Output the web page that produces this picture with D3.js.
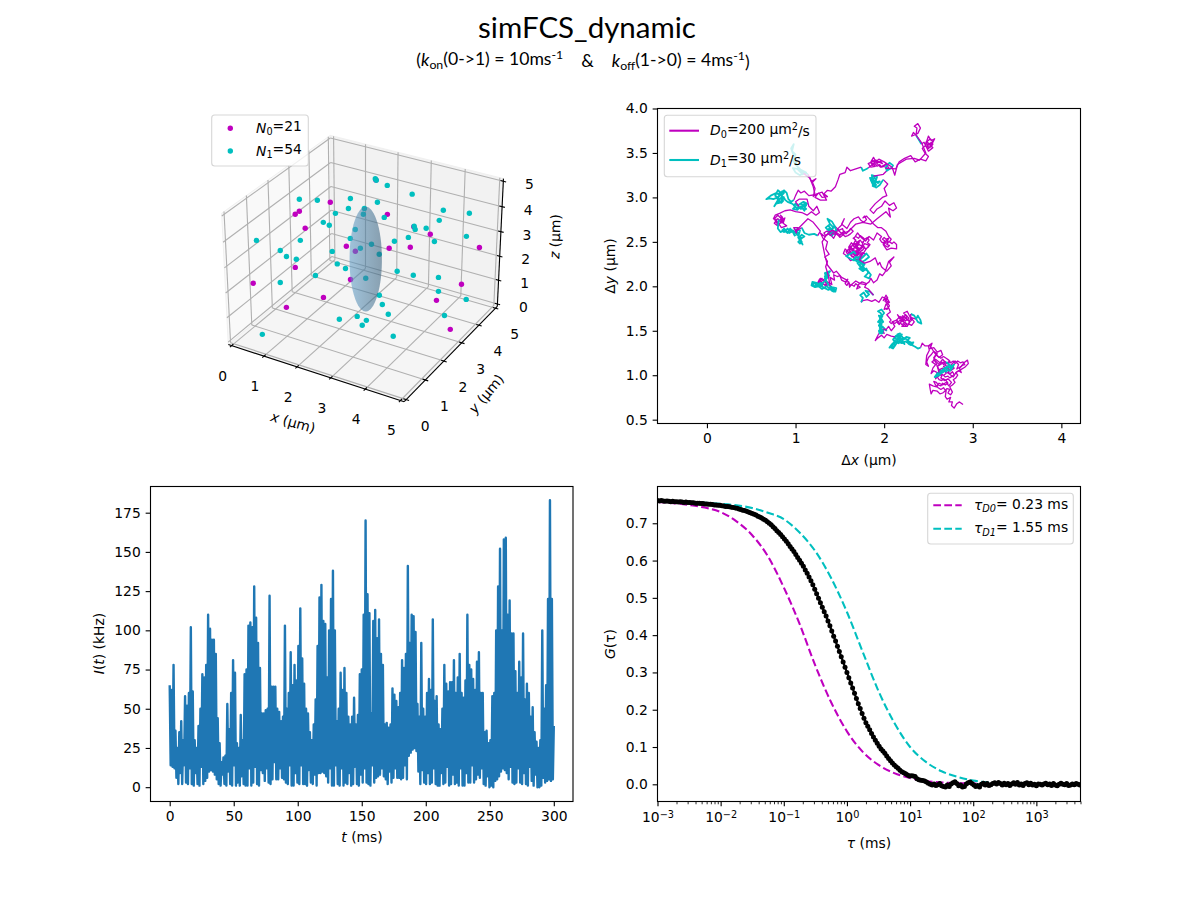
<!DOCTYPE html>
<html><head><meta charset="utf-8">
<style>html,body{margin:0;padding:0;background:#fff}svg{display:block}text{font-family:"DejaVu Sans",sans-serif;fill:#000}</style>
<script src="https://cdn.jsdelivr.net/npm/d3@7"></script>
</head><body><div id="c"></div>
<script>
// ---- data ----
const intensityHigh=[65,62,78,36,25,35,42,30,58,52,60,102,61,30,25,39,50,72,70,78,
110,101,94,94,85,44,28,16,19,20,53,37,60,81,73,28,25,46,30,72,
75,103,105,102,128,108,92,76,47,47,49,50,122,64,64,64,50,48,42,45,
103,50,60,86,65,78,68,90,114,82,66,50,47,35,30,40,56,90,121,129,
106,104,70,100,120,138,100,42,50,73,62,76,60,45,40,45,57,40,46,72,
75,110,170,123,111,47,106,113,95,107,85,78,40,41,38,40,63,59,55,51,
60,81,76,85,141,92,110,109,99,53,45,92,50,45,60,69,62,107,55,58,
40,37,50,78,66,61,67,67,81,60,70,85,60,57,68,110,78,75,69,62,
80,86,60,60,35,36,28,30,58,60,100,128,152,100,158,159,110,119,98,98,
74,60,80,70,98,56,66,60,45,51,35,29,25,30,100,50,65,120,183,120,39];
const intensityLow=[14,13,12,6,2,9,2,14,3,2,12,2,1,9,2,1,13,2,4,6,
10,11,10,8,5,2,1,8,2,1,10,2,1,14,1,3,1,7,2,1,
1,12,1,3,13,2,1,11,9,4,12,3,2,5,16,5,5,12,6,5,
3,2,14,1,1,9,3,2,14,2,2,1,11,3,2,8,1,9,9,10,
9,7,3,12,1,1,14,2,1,12,1,3,2,9,1,2,13,2,1,8,
3,12,3,2,1,14,3,6,7,8,12,7,5,2,10,3,6,12,6,6,
5,6,14,5,20,22,24,25,23,10,2,11,3,2,9,2,3,12,2,1,
1,9,2,3,13,1,2,8,2,3,1,12,1,1,9,3,3,14,3,5,
8,6,12,2,1,7,0,1,0,4,5,7,10,12,11,9,5,13,3,2,
3,12,3,2,9,2,1,13,4,1,8,0,0,1,6,3,4,5,4,5,5];
const fitTau=[0.001,0.00178,0.00316,0.00562,0.01,0.0178,0.0316,0.0562,0.1,0.178,0.316,0.562,1,1.78,3.16,5.62,10,17.8,31.6,56.2,100,178];
const fitD0=[0.757,0.754,0.749,0.742,0.730,0.705,0.668,0.611,0.528,0.430,0.318,0.220,0.142,0.087,0.052,0.030,0.017,0.009,0.005,0.003,0.002,0.001];
const fitD1=[0.759,0.758,0.757,0.755,0.752,0.748,0.741,0.728,0.711,0.675,0.625,0.553,0.462,0.355,0.250,0.165,0.100,0.060,0.035,0.020,0.010,0.005];
const gMeasured=[.761,.760,.761,.760,.759,.760,.759,.758,.759,.758,.758,
.757,.758,.757,.756,.757,.756,.756,.755,.755,.754,
.754,.754,.753,.753,.752,.752,.751,.751,.750,.749,
.749,.748,.748,.747,.746,.745,.745,.744,.743,.742,
.741,.740,.738,.737,.735,.734,.732,.730,.728,.726,
.724,.722,.719,.717,.714,.711,.708,.704,.700,.696,
.691,.686,.680,.675,.670,.664,.658,.652,.645,.638,
.631,.624,.616,.608,.601,.593,.585,.575,.566,.556,
.546,.535,.523,.511,.499,.487,.475,.463,.451,.438,
.425,.411,.397,.384,.370,.356,.342,.328,.314,.300,
.286,.272,.258,.244,.230,.216,.203,.190,.177,.165,
.156,.146,.136,.127,.118,.110,.102,.095,.089,.083,
.076,.069,.063,.057,.052,.047,.043,.038,.034,.031,
.028,.025,.022,.023,.022,.021,.015,.012,.011,.010,
.009,.006,.003,.000,-.002,.001,-.003,-.001,.002,-.004,-.006,
-.007,-.002,-.006,.001,.004,.007,.002,-.004,-.002,-.007,
-.006,.001,.004,.006,.002,-.002,-.006,-.003,-.007,.000,
.003,-.002,.002,-.003,-.001,.002,.004,.001,.005,.002,
-.002,.003,-.001,.002,-.003,.001,.004,.000,.005,-.002,
.001,-.003,.002,.004,-.001,.003,-.002,.000,-.004,.001,
.000,-.002,.001,.003,-.001,.001,-.003,.002,-.002,-.004,
.000,.003,.000,-.001,.002,-.003,-.002,.001,-.001,.002,
.000,-.002,.001];
const walkStates=[0,0,1,1,0,1,1,0,1,1,0,1,0,0,1,0,1,0,1,0,1,0,1,0,1,0,1,0,1,0,1,0,1,0,1,0,1,0];
const walkPoints=[
[2.89,.67,2.85,.70,2.82,.68,2.79,.63,2.76,.66,2.77,.70,2.73,.70,2.75,.75,2.71,.73,2.69,.76,2.70,.83,2.66,.80,2.63,.79,2.60,.82,2.55,.83,2.53,.79,2.52,.84,2.51,.90,2.55,.88,2.59,.87,2.62,.91,2.66,.89,2.70,.92,2.73,.88,2.76,.92,2.72,.96,2.68,.94,2.64,.97,2.66,1.01,2.62,1.00,2.58,.96,2.60,1.03,2.56,1.05,2.53,1.02,2.55,1.08,2.58,1.12,2.54,1.15,2.58,1.18,2.63,1.14,2.66,1.18,2.70,1.13,2.74,1.16,2.71,1.08,2.75,1.05,2.79,1.08,2.76,1.12,2.80,1.16,2.84,1.12,2.82,1.07,2.87,1.10,2.90,1.14,2.94,1.17,2.95,1.13,2.91,1.09,2.86,1.06,2.81,1.03,2.78,.98,2.74,1.01,2.70,1.04,2.66,1.08,2.62,1.06,2.60,1.10,2.65,1.13,2.69,1.16],
[2.68,1.13,2.70,1.11,2.67,1.10,2.69,1.07,2.72,1.08,2.74,1.06,2.72,1.03,2.75,1.02,2.77,1.04,2.79,1.01,2.77,.99,2.74,.97,2.72,.99,2.69,.98,2.67,1.00,2.70,1.02,2.68,1.05,2.65,1.03,2.63,1.06,2.61,1.03,2.63,1.00,2.60,.98,2.62,.95,2.65,.94,2.67,.96,2.70,.94,2.72,.91,2.69,.89,2.66,.91,2.64,.88,2.61,.89,2.59,.92,2.56,.93,2.58,.89,2.61,.86,2.64,.84,2.67,.86,2.69,.83,2.71,.85,2.74,.84,2.72,.80,2.75,.78,2.77,.81,2.74,.87,2.77,.89,2.80,.92,2.78,.95,2.81,.97,2.83,1.00,2.81,1.03,2.84,1.05,2.87,1.03,2.85,1.08,2.88,1.11,2.91,1.12,2.89,1.15,2.86,1.14,2.83,1.16,2.80,1.13,2.78,1.16,2.75,1.14,2.73,1.17,2.70,1.19,2.67,1.21,2.64,1.19,2.61,1.21,2.58,1.23,2.56,1.17,2.59,1.15,2.62,1.12,2.65,1.15,2.67,1.12,2.70,1.15],
[2.72,1.13,2.76,1.10,2.79,1.12,2.75,1.08,2.71,1.10,2.67,1.06,2.63,1.03,2.60,1.00,2.57,.98,2.60,1.02,2.64,1.05],
[2.66,1.06,2.68,1.08,2.70,1.07,2.72,1.09,2.74,1.11,2.76,1.09,2.78,1.10,2.76,1.07,2.74,1.05,2.72,1.06,2.70,1.04,2.68,1.05,2.66,1.03,2.64,1.02,2.62,1.00,2.60,.99,2.58,.98,2.60,1.01,2.62,1.03],
[2.60,1.10,2.56,1.20,2.60,1.24,2.56,1.27,2.53,1.23,2.50,1.20,2.48,1.15,2.50,1.10,2.47,1.12,2.48,1.22,2.51,1.28,2.50,1.33,2.54,1.36,2.52,1.30,2.56,1.31,2.60,1.26,2.64,1.28,2.66,1.23,2.62,1.20,2.57,1.25,2.52,1.33,2.46,1.33,2.43,1.36,2.41,1.31],
[2.38,1.30,2.35,1.32,2.31,1.34,2.33,1.37,2.29,1.36,2.26,1.39,2.29,1.42,2.25,1.43,2.22,1.40,2.20,1.44,2.17,1.42,2.15,1.46,2.18,1.47,2.13,1.44,2.10,1.40,2.13,1.37,2.09,1.35,2.06,1.31,2.09,1.33,2.12,1.39,2.16,1.36,2.20,1.38,2.23,1.35,2.19,1.41,2.14,1.42],
[2.12,1.42,2.14,1.40,2.16,1.41,2.18,1.39,2.20,1.41,2.22,1.42,2.24,1.41,2.26,1.40,2.28,1.38,2.30,1.37,2.32,1.35,2.30,1.34,2.28,1.35,2.26,1.37,2.24,1.38,2.22,1.37,2.20,1.36,2.18,1.37,2.16,1.38,2.14,1.38,2.12,1.37,2.10,1.36,2.12,1.34,2.10,1.32,2.08,1.31,2.10,1.30,2.12,1.33,2.14,1.36,2.16,1.40,2.18,1.44,2.20,1.46,2.18,1.45,2.16,1.43,2.14,1.44,2.12,1.43],
[2.08,1.44,2.03,1.46,2.00,1.42,1.97,1.45,1.93,1.42,1.90,1.39,1.93,1.45,1.96,1.50,2.00,1.47,1.98,1.52,2.03,1.50],
[1.98,1.55,1.95,1.53,1.97,1.58,1.93,1.60,1.96,1.63,1.94,1.67,1.98,1.66,1.96,1.70,1.93,1.72,1.97,1.74,2.00,1.70,1.96,1.65,1.99,1.60,1.95,1.57,1.98,1.53],
[1.96,1.55,1.97,1.57,1.95,1.59,1.97,1.61,1.95,1.63,1.97,1.65,1.95,1.62,1.94,1.60,1.96,1.58,1.94,1.56,1.96,1.53,1.95,1.50,1.97,1.48,1.95,1.47,1.94,1.50,1.96,1.52,1.98,1.50,1.96,1.47,1.98,1.47,1.99,1.52],
[2.02,1.51,2.05,1.55,2.08,1.50,2.12,1.55,2.09,1.60,2.14,1.62,2.17,1.57,2.20,1.62,2.24,1.58,2.20,1.55,2.26,1.55,2.29,1.60,2.25,1.64,2.21,1.67,2.18,1.63,2.15,1.68,2.21,1.61,2.26,1.66,2.22,1.70,2.26,1.72,2.29,1.66,2.31,1.62,2.27,1.58,2.31,1.56,2.34,1.60,2.30,1.65,2.36,1.63],
[2.38,1.67,2.41,1.62,2.42,1.58,2.38,1.60,2.34,1.67,2.30,1.69],
[2.30,1.63,2.28,1.61,2.26,1.63,2.24,1.61,2.22,1.63,2.20,1.60,2.18,1.62,2.16,1.60,2.14,1.62,2.16,1.64,2.18,1.66,2.20,1.64,2.22,1.66,2.24,1.65,2.26,1.62,2.28,1.64,2.26,1.66,2.24,1.68,2.22,1.65,2.20,1.63,2.22,1.60,2.24,1.59,2.26,1.57,2.24,1.56,2.22,1.58,2.20,1.57,2.18,1.59,2.16,1.58,2.14,1.60,2.12,1.58,2.10,1.60,2.08,1.58,2.06,1.60,2.08,1.62],
[2.03,1.68,2.07,1.71,2.05,1.76,2.00,1.74,2.02,1.80,2.06,1.82,2.03,1.87,1.99,1.84,2.02,1.90,2.04,1.87,2.02,1.84,2.05,1.82,2.03,1.79,2.05,1.76,2.03,1.74,2.06,1.78,2.04,1.81,2.01,1.83,2.03,1.86,1.98,1.88,1.94,1.82,1.90,1.85,1.86,1.83,1.81,1.85,1.76,1.84,1.74,1.82],
[1.76,1.87,1.73,1.90,1.77,1.93,1.80,1.88,1.83,1.91,1.79,1.95,1.84,1.94,1.88,1.90],
[1.82,1.97,1.78,1.99,1.80,2.03,1.75,2.05,1.71,2.02,1.69,1.97,1.73,1.99,1.68,2.03,1.66,2.00,1.63,2.02,1.61,1.99,1.60,2.05,1.58,2.01,1.56,2.03,1.59,2.08,1.56,2.05,1.52,2.07,1.50,2.12,1.47,2.11,1.43,2.13,1.44,2.07,1.39,2.10,1.41,2.02,1.36,2.05,1.33,2.01,1.35,2.03,1.33,2.05,1.31,2.07,1.29,2.05,1.31,2.02,1.29,2.00,1.27,2.02,1.29,2.04,1.27,2.06,1.25,2.04,1.27,2.08,1.30,2.09,1.26,2.03,1.28,2.09,1.33,2.07,1.36,2.00,1.31,2.03],
[1.28,2.00,1.24,2.04,1.19,2.05,1.18,2.01,1.22,1.99,1.26,2.00,1.30,1.97,1.35,2.00,1.38,1.98,1.41,1.96,1.45,1.94,1.46,1.98,1.41,1.99,1.37,2.02,1.33,2.09,1.36,2.13,1.39,2.17,1.33,2.15,1.35,2.09,1.37,2.11,1.35,2.13,1.33,2.11,1.35,2.15,1.37,2.14,1.38,2.12,1.36,2.10,1.34,2.07,1.32,2.05,1.30,2.03,1.28,2.04,1.26,2.02,1.24,2.01,1.22,2.03,1.20,2.04,1.20,2.01,1.22,2.00,1.25,2.03,1.27,2.01,1.29,2.02,1.31,1.99,1.33,1.98,1.35,1.97,1.37,1.96,1.39,1.97,1.41,1.95,1.43,1.94,1.45,1.95,1.43,1.97,1.41,1.97,1.39,2.00],
[1.37,2.12,1.34,2.22,1.36,2.28,1.33,2.33,1.38,2.36,1.34,2.42,1.36,2.50,1.31,2.54,1.28,2.60,1.33,2.56,1.38,2.60,1.43,2.54,1.46,2.60,1.50,2.55,1.55,2.59,1.53,2.65,1.49,2.63,1.44,2.68],
[1.41,2.65,1.37,2.63,1.34,2.66,1.39,2.70,1.36,2.76,1.41,2.73,1.44,2.68,1.46,2.63,1.42,2.60,1.37,2.60,1.39,2.62,1.37,2.64,1.39,2.66,1.37,2.68,1.39,2.70,1.41,2.68,1.43,2.66,1.41,2.64,1.43,2.62,1.41,2.60,1.39,2.58,1.41,2.57,1.44,2.60],
[1.47,2.62,1.45,2.58,1.42,2.60,1.40,2.57,1.37,2.59,1.34,2.57,1.32,2.60,1.35,2.62,1.38,2.61,1.41,2.63,1.44,2.61,1.47,2.58,1.50,2.57,1.52,2.60,1.55,2.62,1.57,2.59,1.60,2.62,1.62,2.65,1.65,2.62,1.62,2.59,1.59,2.57,1.56,2.56,1.47,2.64,1.52,2.69,1.55,2.76,1.52,2.70,1.58,2.65,1.62,2.72,1.66,2.76,1.71,2.78,1.74,2.74,1.77,2.72,1.80,2.75,1.78,2.79,1.76,2.77,1.80,2.79,1.82,2.77,1.85,2.74,1.84,2.75,1.88,2.70,1.93,2.66,1.97,2.66,2.02,2.62,2.05,2.56,2.08,2.53,2.06,2.50,2.09,2.48,2.11,2.50,2.14,2.47,2.14,2.42,2.08,2.43,2.03,2.41,1.99,2.47,2.03,2.52,2.05,2.50,2.03,2.47,2.06,2.46,2.04,2.44,2.01,2.46,1.99,2.49,2.01,2.51,1.98,2.53,2.00,2.55,2.02,2.53,2.05,2.54,2.03,2.49,2.00,2.48,1.97,2.50,1.95,2.53,1.97,2.56,1.92,2.60,1.88,2.52,1.83,2.56,1.79,2.51,1.74,2.55,1.70,2.60,1.66,2.54,1.70,2.48,1.75,2.45,1.72,2.40,1.67,2.44,1.63,2.49,1.60,2.44,1.65,2.39,1.69,2.35,1.64,2.33,1.60,2.38,1.56,2.42,1.54,2.37,1.58,2.34,1.62,2.29,1.67,2.31,1.71,2.36,1.77,2.38,1.74,2.33,1.79,2.41,1.83,2.46,1.78,2.48,1.74,2.42,1.69,2.44,1.72,2.50,1.67,2.47,1.71,2.41,1.76,2.44,1.68,2.38,1.64,2.42,1.70,2.45,1.65,2.48,1.61,2.40,1.66,2.36,1.72,2.38,1.68,2.34,1.70,2.37,1.68,2.40,1.71,2.42,1.69,2.45,1.72,2.47,1.70,2.50,1.73,2.52,1.75,2.49,1.77,2.51,1.75,2.46,1.78,2.44,1.76,2.41,1.73,2.39,1.75,2.36,1.72,2.34,1.70,2.32,1.67,2.35,1.64,2.37,1.66,2.41,1.63,2.43,1.60,2.41,1.62,2.38,1.59,2.36,1.57,2.39,1.60,2.42,1.62,2.45,1.65,2.46,1.67,2.43,1.69,2.47,1.66,2.49,1.68,2.52,1.65,2.54,1.68,2.56,1.71,2.54,1.73,2.57,1.76,2.55,1.78,2.53,1.81,2.55,1.83,2.52,1.81,2.49,1.84,2.47,1.82,2.44,1.79,2.42,1.77,2.45,1.74,2.44,1.72,2.41,1.70,2.38,1.73,2.36,1.76,2.38,1.79,2.36,1.76,2.33,1.72,2.31,1.69,2.30,1.66,2.32,1.63,2.35,1.65,2.38,1.68,2.36],
[1.66,2.39,1.61,2.36,1.57,2.34,1.62,2.31,1.66,2.29,1.69,2.33,1.73,2.30,1.77,2.34,1.80,2.37,1.83,2.33,1.78,2.29,1.74,2.27,1.77,2.23,1.72,2.20,1.76,2.17,1.80,2.20,1.82,2.15,1.78,2.11,1.83,2.09,1.85,2.13,1.81,2.18,1.74,2.21,1.70,2.26,1.72,2.28,1.74,2.25,1.76,2.27,1.78,2.25,1.76,2.22,1.78,2.20,1.76,2.18,1.74,2.20,1.76,2.23,1.74,2.22,1.72,2.24,1.74,2.27,1.71,2.30,1.69,2.28,1.66,2.31,1.68,2.33,1.71,2.32,1.74,2.34],
[1.72,2.30,1.78,2.26,1.84,2.28,1.90,2.32,1.93,2.24,1.95,2.27,1.97,2.22,1.99,2.20,2.03,2.17,2.08,2.23,2.06,2.27,2.11,2.33,2.05,2.28,2.01,2.16,1.98,2.12,1.95,2.14,1.92,2.07,1.88,2.04,1.85,2.09,1.83,2.05,1.79,2.02,1.73,2.03,1.68,2.06,1.62,2.01,1.58,2.07,1.52,2.10,1.46,2.17,1.43,2.15,1.36,2.24,1.33,2.35,1.30,2.50,1.35,2.58,1.42,2.63,1.50,2.58,1.60,2.62,1.68,2.70,1.76,2.72,1.85,2.70,1.92,2.76,1.97,2.80,2.02,2.84,2.07,2.78,2.05,2.88,2.10,2.85,2.14,2.88,2.11,2.94,2.06,2.91,2.01,2.96,1.97,2.90,1.92,2.87,1.88,2.82,1.84,2.86,1.90,2.93,1.98,3.00,2.03,3.02,2.00,3.10,2.04,3.15,1.99,3.20],
[1.95,3.14,1.91,3.11,1.87,3.15,1.84,3.22,1.88,3.20,1.86,3.25,1.92,3.23,1.90,3.17,1.95,3.18,1.93,3.16,1.91,3.18,1.89,3.16,1.91,3.14,1.89,3.12,1.87,3.13,1.89,3.15,1.87,3.17,1.85,3.19,1.87,3.21,1.89,3.22,1.91,3.20,1.89,3.18,1.87,3.19,1.86,3.23,1.88,3.24],
[1.99,3.26,2.03,3.30,2.05,3.34,2.01,3.37,1.96,3.34,1.92,3.38,1.88,3.45,1.85,3.40,1.90,3.35,1.85,3.34,1.82,3.38,1.90,3.42,1.98,3.38,1.96,3.41,1.93,3.39,1.91,3.42,1.89,3.39,1.87,3.42,1.85,3.39,1.87,3.36,1.90,3.38,1.92,3.35,1.95,3.37,1.97,3.34,2.00,3.35,2.02,3.38,2.04,3.36,2.02,3.33],
[2.03,3.30,2.08,3.33,2.10,3.36,2.06,3.39,2.01,3.33],
[2.13,3.32,2.17,3.40,2.23,3.44,2.30,3.47,2.35,3.40,2.41,3.43,2.47,3.41,2.50,3.46,2.46,3.50,2.43,3.55,2.46,3.58,2.50,3.55,2.54,3.60,2.57,3.66,2.53,3.64,2.50,3.69,2.47,3.60,2.49,3.62,2.51,3.59,2.53,3.62,2.55,3.60,2.53,3.57,2.51,3.56,2.49,3.58,2.47,3.62,2.50,3.64,2.52,3.66,2.55,3.63,2.53,3.60,2.50,3.61,2.48,3.57,2.51,3.60,2.55,3.56,2.50,3.52,2.45,3.62,2.42,3.60],
[2.39,3.65,2.36,3.70],
[2.33,3.73,2.31,3.69,2.38,3.72,2.41,3.78,2.38,3.83,2.34,3.80,2.37,3.78,2.36,3.70,2.42,3.62,2.47,3.50,2.40,3.42,2.34,3.44,2.25,3.43,2.15,3.37,2.12,3.25,2.09,3.34,2.00,3.40,1.94,3.43,1.88,3.38,1.82,3.33],
[1.80,3.32,1.76,3.30,1.74,3.34],
[1.68,3.32,1.62,3.30,1.58,3.34,1.56,3.28,1.50,3.26,1.48,3.20,1.45,3.12,1.40,3.07,1.36,3.08,1.32,3.04,1.36,3.01,1.30,3.00,1.26,3.05,1.22,3.00,1.28,2.97,1.35,2.97,1.30,3.06,1.24,3.04,1.20,3.01,1.22,3.10,1.19,3.17,1.23,3.21,1.18,3.18,1.14,3.26],
[1.10,3.28,1.05,3.25,1.00,3.28,.97,3.33,1.02,3.32,1.08,3.26,1.12,3.28,1.06,3.31,1.00,3.37,.97,3.42,1.00,3.48,.96,3.52,.98,3.60,.95,3.55,.99,3.44,1.03,3.33,1.09,3.27],
[1.16,3.22,1.20,3.12,1.22,3.03,1.15,3.02,1.10,3.07,1.06,3.05,1.03,3.08,1.00,3.02,.98,2.97],
[.95,2.95,.92,2.98,.90,3.05,.87,3.08,.84,3.05,.80,3.08,.77,3.02,.80,3.00,.75,2.98,.71,2.99,.67,2.98,.72,3.02,.78,3.05,.84,3.02,.88,2.98,.86,3.00,.84,2.98,.86,2.96,.84,2.94,.82,2.96,.80,2.94,.82,2.98,.80,3.00,.82,3.02,.80,3.04,.83,3.05,.85,3.03,.87,3.05,.85,3.07,.83,3.03,.81,3.01,.79,2.99,.81,2.97,.83,2.99,.85,3.01,.87,3.00,.85,2.97,.83,2.95,.83,2.94,.78,2.93,.76,2.90,.80,2.97,.85,3.00,.91,2.95,.96,2.93,1.00,2.90,.97,2.87,1.02,2.86,1.06,2.90,1.10,2.85,1.07,2.89,1.13,2.93,1.09,2.95,1.04,2.92,1.06,2.93,1.08,2.91,1.10,2.93,1.12,2.91,1.10,2.89,1.12,2.87,1.10,2.86,1.08,2.88,1.06,2.87,1.04,2.89,1.02,2.91,1.00,2.93,.98,2.91,1.00,2.89,1.02,2.88,1.04,2.90],
[1.00,2.95,1.04,2.98,1.13,2.98,1.15,2.90,1.20,2.85,1.24,2.90,1.27,2.83,1.23,2.80,1.18,2.84,1.13,2.80,1.07,2.83,1.00,2.84,.94,2.86,.88,2.85,.82,2.82,.77,2.80,.75,2.76,.79,2.75,.76,2.71,.80,2.68,.84,2.73,.88,2.77,.86,2.71,.90,2.68,.84,2.66,.80,2.72,.78,2.74,.80,2.76,.82,2.74,.84,2.76,.82,2.78,.80,2.80,.78,2.78,.76,2.76,.78,2.72,.80,2.70,.83,2.71,.85,2.72,.87,2.74,.85,2.78,.83,2.80,.85,2.76,.83,2.72,.81,2.75],
[.80,2.65,.83,2.61,.87,2.63,.91,2.60,.94,2.65,.97,2.61,.99,2.57,1.03,2.60,1.00,2.64,1.05,2.63,1.03,2.55,1.06,2.50,1.08,2.47,1.05,2.53,1.10,2.56,1.07,2.58,1.05,2.56,1.07,2.54,1.05,2.52,1.03,2.50,1.05,2.48,1.07,2.50,1.05,2.53,1.03,2.57,1.01,2.59,.99,2.61,.97,2.63,.95,2.61,.93,2.63,.91,2.65,.89,2.63,.87,2.61,.85,2.63,.87,2.65,.90,2.62,.93,2.60,.96,2.62,.99,2.60,1.01,2.62],
[1.01,2.60,.98,2.66,1.03,2.66,1.00,2.62,1.07,2.66],
[1.10,2.60,1.15,2.58,1.21,2.59,1.25,2.57],
[1.28,2.62,1.20,2.72,1.14,2.76,1.07,2.69,1.02,2.64]
];
const n0X=[1.46,.51,.38,.68,3.14,1.93,2.20,3.20,3.81,4.37,4.74,.34,.41,2.05,1.21,.48,4.94,4.59,4.66,2.01,3.90];
const n0Y=[2.5,2.5,2.5,2.5,2.5,2.5,2.5,2.5,2.5,2.5,4.6,2.5,.4,2.5,2.5,1.8,3.2,2.5,3.2,3.9,2.5];
const n0Z=[4.48,3.79,3.62,3.17,4.61,2.91,2.81,3.31,3.58,4.29,2.55,1.44,2.25,1.61,.53,.31,2.08,1.78,.12,4.71,4.41];
const n1X=[1.99,2.02,2.35,3.09,.52,1.07,2.06,2.85,2.00,2.47,1.61,2.44,3.05,4.36,4.75,4.61,1.24,1.42,3.91,3.94,4.25,2.20,4.69,3.75,4.49,3.35,2.05,.52,.08,2.68,2.35,.34,1.50,2.91,.07,.38,1.65,1.90,3.44,.97,3.91,4.63,2.51,.31,4.64,2.92,4.75,3.01,3.19,4.83,2.25,2.12,2.53,2.81,.63,3.73];
const n1Y=[3.9,3.9,3.9,3.9,2.5,2.5,2.5,2.5,2.5,2.5,2.5,2.5,2.5,3.2,3.9,2.5,2.5,2.5,2.5,2.5,2.5,2.5,3.9,2.5,2.5,2.5,2.5,2.5,1.1,2.5,2.5,1.8,2.5,2.5,2.5,2.5,2.5,2.5,2.5,2.5,2.5,2.5,2.5,1.8,2.5,2.5,3.9,2.5,2.5,2.5,2.5,1.8,2.5,1.8,.4,1.8];
const n1Z=[4.75,4.70,4.61,4.52,4.27,4.42,4.84,4.97,4.43,4.60,4.10,4.36,4.46,4.77,4.36,4.91,3.61,3.56,4.43,4.32,4.48,3.68,3.43,3.94,4.06,3.64,3.27,2.62,3.36,3.27,2.99,2.60,2.54,2.96,1.79,1.79,2.09,2.00,2.49,1.35,2.51,2.71,1.84,1.28,2.16,1.31,.90,.97,.64,1.27,.16,.49,.11,.53,.26,.47];
const cubeTicks=[0,1,2,3,4,5];
const focusCentre=[2.51,2.50,2.58],focusWaist=.42,focusHeight=2.08;

// ---- layout ----
const MAG="#bf00bf",CYA="#00bfbf",BLUE="#1f77b4";
const W=1200,H=900,FS=13.89;
const svg=d3.select("#c").append("svg").attr("width",W).attr("height",H);
function rich(t,segs){segs.forEach(s=>{let ts=t.append("tspan").text(s.t);
 if(s.i)ts.style("font-style","italic");
 if(s.sub)ts.attr("dy",s.dy||"0.25em").style("font-size","70%");
 else if(s.sup)ts.attr("dy","-0.45em").style("font-size","70%");
 else if(s.back)ts.attr("dy",s.back);
});return t;}
function legendBox(x,y,w,h){return svg.append("rect").attr("x",x).attr("y",y).attr("width",w).attr("height",h).attr("rx",3).attr("fill","#fff").attr("fill-opacity",.8).attr("stroke","#ccc").attr("stroke-opacity",.8).attr("stroke-width",1.1);}
function styleAxis(g){g.select(".domain").remove();g.selectAll(".tick line").attr("stroke","#000").attr("stroke-width",1.11);g.selectAll("text").attr("font-size",FS).attr("font-family","DejaVu Sans").attr("fill","#000");return g;}
function spines(x0,x1,y0,y1){svg.append("rect").attr("x",x0).attr("y",y0).attr("width",x1-x0).attr("height",y1-y0).attr("fill","none").attr("stroke","#000").attr("stroke-width",1.11);}
function clip(id,x0,x1,y0,y1){svg.append("clipPath").attr("id",id).append("rect").attr("x",x0).attr("y",y0).attr("width",x1-x0).attr("height",y1-y0);return "url(#"+id+")";}
function label(x,y,segs,rot,anchor){const t=svg.append("text").attr("font-size",FS).attr("text-anchor",anchor||"middle");
 t.attr("transform",`translate(${x},${y})`+(rot?` rotate(${rot})`:""));rich(t,segs);return t;}

// titles
svg.append("text").attr("x",587).attr("y",38).attr("text-anchor","middle").style("font-family","Lato").attr("font-size",29.5).text("simFCS_dynamic");
const sub=svg.append("text").attr("x",583).attr("y",66).attr("text-anchor","middle").style("font-family","Lato").attr("font-size",17.6);
rich(sub,[{t:"("},{t:"k",i:1},{t:"on",sub:1},{t:"(0->1) = 10ms",back:"-0.25em"},{t:"-1",sup:1},{t:"\u00a0\u00a0\u00a0\u00a0&\u00a0\u00a0\u00a0\u00a0",back:"0.45em"},{t:"k",i:1},{t:"off",sub:1},{t:"(1->0) = 4ms",back:"-0.25em"},{t:"-1",sup:1},{t:")",back:"0.45em"}]);

// ---- 3D panel ----
const D2R=Math.PI/180,elev=30*D2R,azim=-60*D2R,dist=10,box=[1.1905,1.1905,.8929];
const add=(a,b)=>a.map((v,i)=>v+b[i]),sub3=(a,b)=>a.map((v,i)=>v-b[i]),dot=(a,b)=>a[0]*b[0]+a[1]*b[1]+a[2]*b[2];
const cross=(a,b)=>[a[1]*b[2]-a[2]*b[1],a[2]*b[0]-a[0]*b[2],a[0]*b[1]-a[1]*b[0]];
const norm=a=>{const n=Math.hypot(...a);return a.map(v=>v/n)};
const R0=box.map(b=>b/2),Eye=add(R0,[dist*Math.cos(elev)*Math.cos(azim),dist*Math.cos(elev)*Math.sin(azim),dist*Math.sin(elev)]);
const w3=norm(sub3(Eye,R0)),u3=norm(cross([0,0,1],w3)),v3=cross(w3,u3);
function raw(p){const q=p.map((c,i)=>c/5*box[i]),r=sub3(q,Eye),z=-dot(w3,r);return [dot(u3,r)/z,dot(v3,r)/z];}
const L=-.104,Hi=5.104;
const sx=d3.scaleLinear().domain([raw([L,L,L])[0],raw([Hi,Hi,L])[0]]).range([228.3,497.3]);
const sy=d3.scaleLinear().domain([raw([Hi,L,L])[1],raw([L,L,Hi])[1]]).range([401.7,213.3]);
const P=p=>{const r=raw(p);return [sx(r[0]),sy(r[1])]};
const poly=pts=>pts.map(P).map(c=>c.join(",")).join(" ");
const g3=svg.append("g");
g3.append("polygon").attr("points",poly([[L,L,L],[L,Hi,L],[L,Hi,Hi],[L,L,Hi]])).attr("fill","#f9f9f9").attr("stroke","#f0f0f0");
g3.append("polygon").attr("points",poly([[L,Hi,L],[Hi,Hi,L],[Hi,Hi,Hi],[L,Hi,Hi]])).attr("fill","#f2f2f2").attr("stroke","#f0f0f0");
g3.append("polygon").attr("points",poly([[L,L,L],[Hi,L,L],[Hi,Hi,L],[L,Hi,L]])).attr("fill","#f5f5f5").attr("stroke","#f0f0f0");
const seg=(a,b,c,w)=>{const A=P(a),B=P(b);g3.append("line").attr("x1",A[0]).attr("y1",A[1]).attr("x2",B[0]).attr("y2",B[1]).attr("stroke",c).attr("stroke-width",w)};
const GC="#b0b0b0",GW=1.11;
cubeTicks.forEach(v=>{seg([v,L,L],[v,Hi,L],GC,GW);seg([v,Hi,L],[v,Hi,Hi],GC,GW);seg([L,v,L],[Hi,v,L],GC,GW);seg([L,v,L],[L,v,Hi],GC,GW);seg([L,L,v],[L,Hi,v],GC,GW);seg([L,Hi,v],[Hi,Hi,v],GC,GW);});
seg([L,L,L],[Hi,L,L],"#000",1.11);seg([Hi,L,L],[Hi,Hi,L],"#000",1.11);seg([Hi,Hi,L],[Hi,Hi,Hi],"#000",1.11);
const triples=(a,b,c)=>a.map((v,i)=>[v,b[i],c[i]]);
const dots=(arr,col)=>g3.selectAll(null).data(arr).join("circle").attr("cx",d=>P(d)[0]).attr("cy",d=>P(d)[1]).attr("r",2.7).attr("fill",col);
dots(triples(n0X,n0Y,n0Z),MAG);dots(triples(n1X,n1Y,n1Z),CYA);
const samples=[];d3.range(0,360,12).forEach(a=>d3.range(-90,91,6).forEach(b=>{samples.push([focusCentre[0]+focusWaist*Math.cos(b*D2R)*Math.cos(a*D2R),focusCentre[1]+focusWaist*Math.cos(b*D2R)*Math.sin(a*D2R),focusCentre[2]+focusHeight*Math.sin(b*D2R)]);}));
const hull=d3.polygonHull(samples.map(P));
const grad=svg.append("linearGradient").attr("id","eg");grad.append("stop").attr("offset","0%").attr("stop-color","#5b9bc7");grad.append("stop").attr("offset","100%").attr("stop-color","#2f5a78");
g3.append("path").attr("d","M"+hull.join("L")+"Z").attr("fill","url(#eg)").attr("fill-opacity",.55);
cubeTicks.forEach(v=>{seg([v,L+.08,L],[v,L-.08,L],"#000",1.11);seg([Hi-.08,v,L],[Hi+.08,v,L],"#000",1.11);seg([Hi-.08,Hi,v],[Hi+.08,Hi,v],"#000",1.11);
 const a=P([v,L,L]),b=P([Hi,v,L]),c=P([Hi,Hi,v]);
 const T=(x,y,s)=>g3.append("text").attr("x",x).attr("y",y).attr("font-size",FS).attr("text-anchor","middle").attr("dominant-baseline","central").text(s);
 T(a[0]-9,a[1]+30,v);T(b[0]+19,b[1]+26,v);T(c[0]+26,c[1]+3,v);});
label(291.7,427,[{t:"x",i:1},{t:" (μm)"}],16);
label(490,397,[{t:"y",i:1},{t:" (μm)"}],-50);
label(560,236.7,[{t:"z",i:1},{t:" (μm)"}],-88);
legendBox(211.7,115,96.6,51);
svg.append("circle").attr("cx",230.3).attr("cy",128.3).attr("r",2.7).attr("fill",MAG);
svg.append("circle").attr("cx",230.3).attr("cy",151).attr("r",2.7).attr("fill",CYA);
label(256,132.5,[{t:"N",i:1},{t:"0",sub:1},{t:"=21",back:"-0.25em"}],0,"start");
label(256,155.5,[{t:"N",i:1},{t:"1",sub:1},{t:"=54",back:"-0.25em"}],0,"start");

// ---- trajectory ----
const X2=[657.5,1080.5],Y2=[108.5,423.5];
const xT=d3.scaleLinear().domain([-.558,4.216]).range(X2),yT=d3.scaleLinear().domain([.457,4]).range([Y2[1],Y2[0]]);
const ct=clip("ct",X2[0],X2[1],Y2[0],Y2[1]);
const gT=svg.append("g").attr("clip-path",ct);
const lineT=d3.line().x(d=>xT(d[0])).y(d=>yT(d[1]));
let prev=null;
walkPoints.forEach((flat,i)=>{const pts=d3.range(0,flat.length,2).map(k=>[flat[k],flat[k+1]]);
 const full=prev?[prev,...pts]:pts;prev=pts[pts.length-1];
 gT.append("path").attr("d",lineT(full)).attr("fill","none").attr("stroke",walkStates[i]?CYA:MAG).attr("stroke-width",walkStates[i]?1.8:1.3).attr("stroke-linejoin","round");});
spines(X2[0],X2[1],Y2[0],Y2[1]);
styleAxis(svg.append("g").attr("transform",`translate(0,${Y2[1]})`).call(d3.axisBottom(xT).tickValues([0,1,2,3,4]).tickFormat(d3.format("d")).tickSize(4.86).tickPadding(4.86)));
styleAxis(svg.append("g").attr("transform",`translate(${X2[0]},0)`).call(d3.axisLeft(yT).tickValues([.5,1,1.5,2,2.5,3,3.5,4]).tickFormat(d3.format(".1f")).tickSize(4.86).tickPadding(4.86)));
label(869,465,[{t:"Δ"},{t:"x",i:1},{t:" (μm)"}]);
label(615,266,[{t:"Δ"},{t:"y",i:1},{t:" (μm)"}],-90);
legendBox(664.3,115.3,151.7,61.4);
[[130.7,MAG,"0","=200 μm"],[160,CYA,"1","=30 μm"]].forEach(r=>{svg.append("line").attr("x1",669.3).attr("x2",699).attr("y1",r[0]).attr("y2",r[0]).attr("stroke",r[1]).attr("stroke-width",2.08);
 label(710,r[0]+4.5,[{t:"D",i:1},{t:r[2],sub:1},{t:r[3],back:"-0.25em"},{t:"2",sup:1},{t:"/s",back:"0.45em"}],0,"start");});

// ---- intensity ----
const X3=[150.5,573],Y3=[486.5,801.5];
const xI=d3.scaleLinear().domain([-15,315]).range(X3),yI=d3.scaleLinear().domain([-9.13,191.7]).range([Y3[1],Y3[0]]);
const intensity=[];intensityHigh.forEach((h,i)=>{intensity.push([i*1.5,h]);intensity.push([i*1.5+.75,intensityLow[i]]);});
intensity.length=intensity.length-1;
svg.append("path").attr("d",d3.line().x(d=>xI(d[0])).y(d=>yI(d[1]))(intensity)).attr("fill","none").attr("stroke",BLUE).attr("stroke-width",2.4).attr("stroke-linejoin","round");
spines(X3[0],X3[1],Y3[0],Y3[1]);
styleAxis(svg.append("g").attr("transform",`translate(0,${Y3[1]})`).call(d3.axisBottom(xI).tickValues(d3.range(0,301,50)).tickSize(4.86).tickPadding(4.86)));
styleAxis(svg.append("g").attr("transform",`translate(${X3[0]},0)`).call(d3.axisLeft(yI).tickValues(d3.range(0,176,25)).tickSize(4.86).tickPadding(4.86)));
label(362,842,[{t:"t",i:1},{t:" (ms)"}]);
label(104,643.5,[{t:"I",i:1},{t:"("},{t:"t",i:1},{t:") (kHz)"}],-90);

// ---- correlation ----
const X4=[657.5,1080.5],Y4=[486.5,801.5];
const xG=d3.scaleLog().domain([1e-3,5000]).range(X4),yG=d3.scaleLinear().domain([-.0461,.7986]).range([Y4[1],Y4[0]]);
const cg=clip("cg",X4[0],X4[1],Y4[0],Y4[1]);
const gG=svg.append("g").attr("clip-path",cg);
const fitLine=d3.line().x((d,i)=>xG(fitTau[i])).y(d=>yG(d)).curve(d3.curveMonotoneX);
gG.append("path").attr("d",fitLine(fitD0)).attr("fill","none").attr("stroke",MAG).attr("stroke-width",2.08).attr("stroke-dasharray","7.7,3.3");
gG.append("path").attr("d",fitLine(fitD1)).attr("fill","none").attr("stroke",CYA).attr("stroke-width",2.08).attr("stroke-dasharray","7.7,3.3");
const gTau=gMeasured.map((d,i)=>0.001*Math.pow(10,.03*i));
gG.append("path").attr("d",d3.line().x((d,i)=>xG(gTau[i])).y(d=>yG(d))(gMeasured)).attr("fill","none").attr("stroke","#000").attr("stroke-width",2.08);
gG.selectAll(null).data(gMeasured).join("circle").attr("cx",(d,i)=>xG(gTau[i])).attr("cy",d=>yG(d)).attr("r",2.5).attr("fill","#000");
spines(X4[0],X4[1],Y4[0],Y4[1]);
const decades=[-3,-2,-1,0,1,2,3];
const minor=[];decades.forEach(e=>[2,3,4,5,6,7,8,9].forEach(m=>{const v=m*Math.pow(10,e);if(v<=5000)minor.push(v);}));
const mn=svg.append("g").attr("transform",`translate(0,${Y4[1]})`).call(d3.axisBottom(xG).tickValues(minor).tickFormat("").tickSize(2.78));
mn.select(".domain").remove();mn.selectAll("line").attr("stroke","#000").attr("stroke-width",.83);
const maj=styleAxis(svg.append("g").attr("transform",`translate(0,${Y4[1]})`).call(d3.axisBottom(xG).tickValues(decades.map(e=>Math.pow(10,e))).tickFormat("").tickSize(4.86).tickPadding(6)));
maj.selectAll(".tick text").each(function(d){const e=Math.round(Math.log10(d));const t=d3.select(this);t.text("");t.append("tspan").text("10");t.append("tspan").attr("dy","-0.42em").style("font-size","70%").text((e<0?"\u2212":"")+Math.abs(e));});
styleAxis(svg.append("g").attr("transform",`translate(${X4[0]},0)`).call(d3.axisLeft(yG).tickValues([0,.1,.2,.3,.4,.5,.6,.7]).tickFormat(d3.format(".1f")).tickSize(4.86).tickPadding(4.86)));
label(869,848,[{t:"τ",i:1},{t:" (ms)"}]);
label(615,644,[{t:"G",i:1},{t:"(τ)"}],-90);
legendBox(927.7,493.3,145.6,50.7);
[[505.3,MAG,"D0","= 0.23 ms"],[528.7,CYA,"D1","= 1.55 ms"]].forEach(r=>{svg.append("line").attr("x1",933.3).attr("x2",961.7).attr("y1",r[0]).attr("y2",r[0]).attr("stroke",r[1]).attr("stroke-width",2.08).attr("stroke-dasharray","7.7,3.3");
 label(974,r[0]+4.5,[{t:"τ",i:1},{t:r[2],sub:1,i:1},{t:r[3],back:"-0.25em"}],0,"start");});
</script></body></html>
